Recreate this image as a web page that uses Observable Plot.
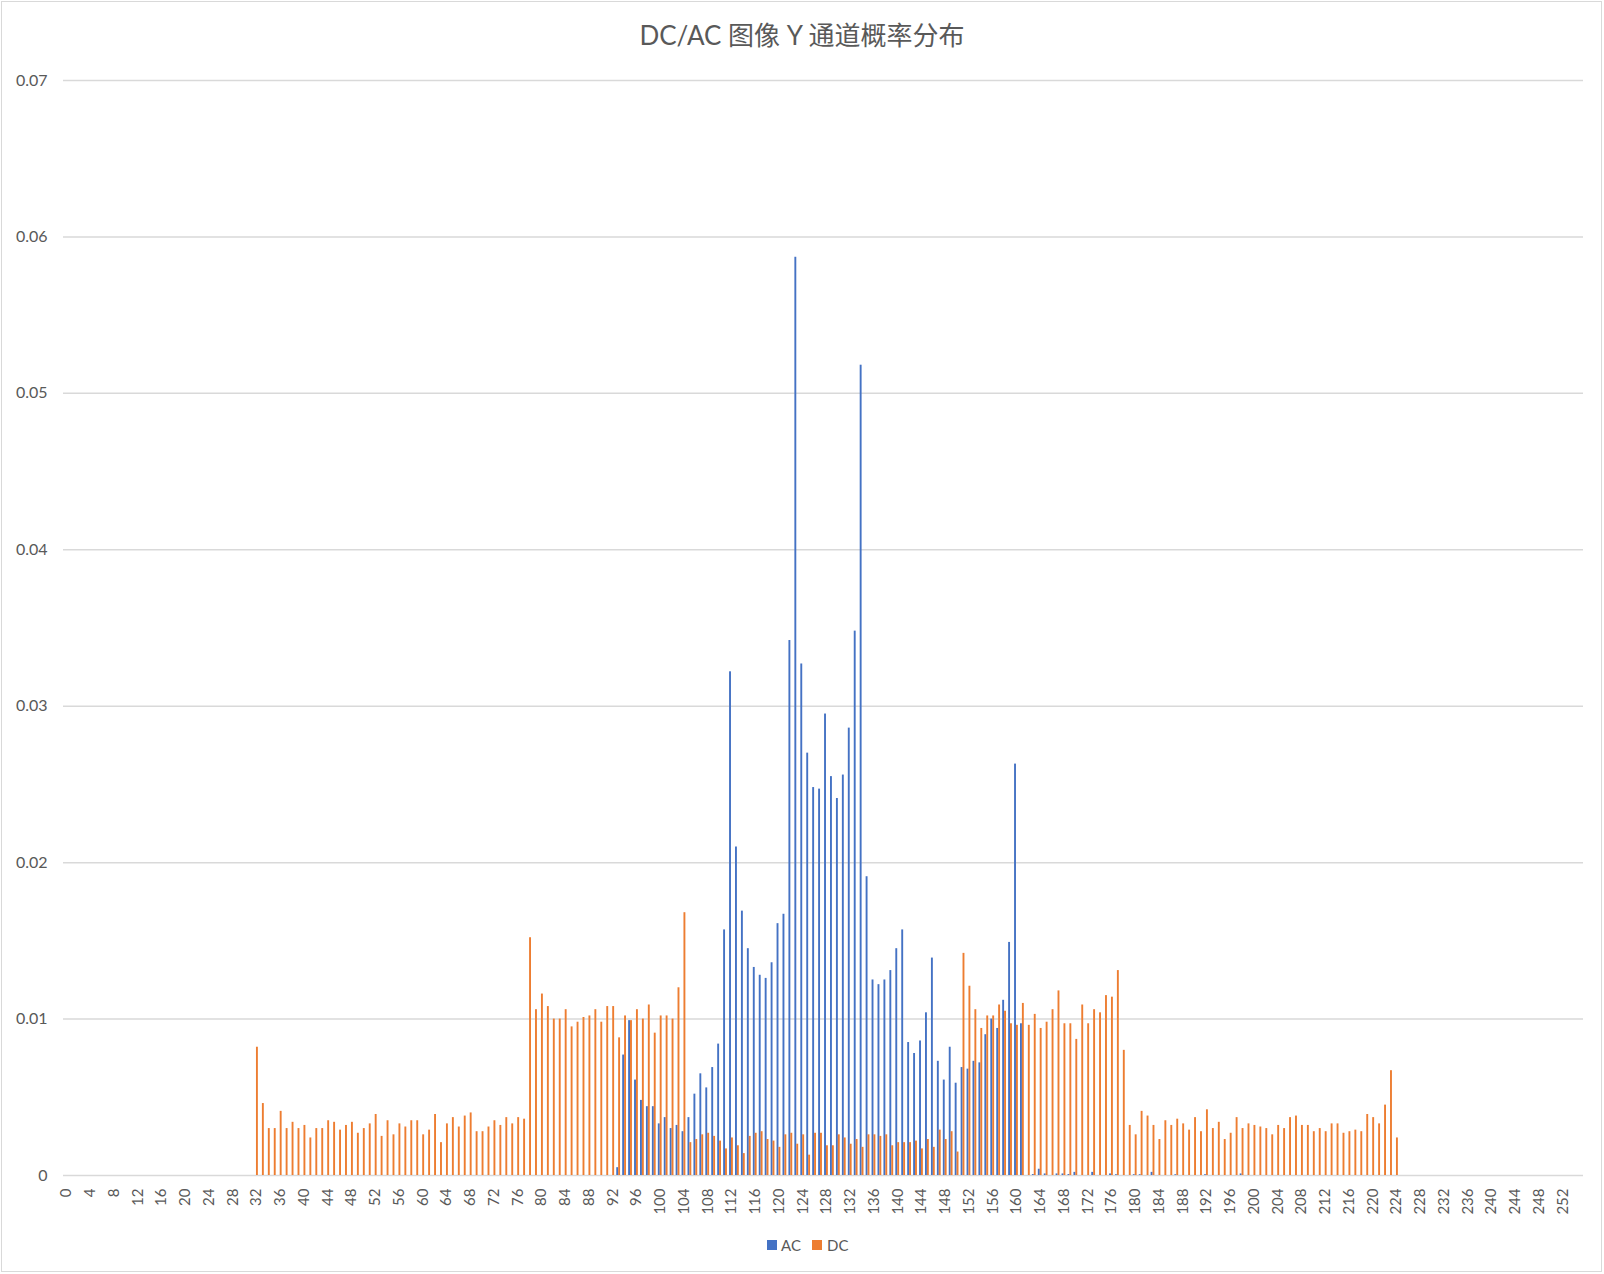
<!DOCTYPE html>
<html><head><meta charset="utf-8">
<script src="https://cdn.jsdelivr.net/npm/d3@7"></script>
<script src="https://cdn.jsdelivr.net/npm/@observablehq/plot@0.6"></script>
<style>
body{margin:0;background:#fff;}
#chart{position:relative;width:1604px;height:1274px;font-family:Lato,"Noto Sans CJK SC",sans-serif;color:#595959;background:#fff;overflow:hidden}
#frame{position:absolute;left:1px;top:1px;width:1601px;height:1271px;border:1px solid #d9d9d9;box-sizing:border-box;pointer-events:none}
#title{position:absolute;left:0;top:18px;width:100%;text-align:center;font-size:26px;line-height:34px;font-family:Lato,"Noto Sans CJK SC",sans-serif;}
#plot{position:absolute;left:0;top:0;}
.lg{position:absolute;top:1236px;font-size:15px;line-height:18px;}
.sw{position:absolute;top:1240px;width:10px;height:10px;}
</style></head>
<body>
<div id="chart">
  <div id="plot"></div>
  <div id="title"></div>
  <div class="sw" style="left:767px;background:#4472C4"></div>
  <div class="lg" id="lgAC" style="left:781px"></div>
  <div class="sw" style="left:812px;background:#ED7D31"></div>
  <div class="lg" id="lgDC" style="left:827px"></div>
  <div id="frame"></div>
</div>
<script>
const titleText = "DC/AC 图像 Y 通道概率分布";
const seriesNames = ["AC", "DC"];
const seriesColors = ["#4472C4", "#ED7D31"];
const categories = d3.range(256);
const xTickLabels = d3.range(0, 256, 4);
const yTicks = [0, 0.01, 0.02, 0.03, 0.04, 0.05, 0.06, 0.07];

const acValues = [
 0,0,0,0,0,0,0,0,0,0,0,0,0,0,0,0,
 0,0,0,0,0,0,0,0,0,0,0,0,0,0,0,0,
 0,0,0,0,0,0,0,0,0,0,0,0,0,0,0,0,
 0,0,0,0,0,0,0,0,0,0,0,0,0,0,0,0,
 0,0,0,0,0,0,0,0,0,0,0,0,0,0,0,0,
 0,0,0,0,0,0,0,0,0,0,0,0,0,.0005,.0077,.0099,
 .0061,.0048,.0044,.0044,.0033,.0037,.0030,.0032,.0028,.0037,.0052,.0065,.0056,.0069,.0084,.0157,
 .0322,.0210,.0169,.0145,.0133,.0128,.0126,.0136,.0161,.0167,.0342,.0587,.0327,.0270,.0248,.0247,
 .0295,.0255,.0241,.0256,.0286,.0348,.0518,.0191,.0125,.0122,.0125,.0131,.0145,.0157,.0085,.0078,
 .0086,.0104,.0139,.0073,.0061,.0082,.0059,.0069,.0068,.0073,.0072,.0090,.0100,.0094,.0112,.0149,
 .0263,.0097,0,.00006,.0004,.0001,0,.0001,.0001,.00006,.0002,0,0,.0002,0,0,
 .0001,.00005,0,0,.00005,.00005,0,.0002,0,0,0,.00005,0,0,0,0,
 .00005,0,0,0,0,0,.0001,0,0,0,0,0,0,0,0,0,
 0,0,0,0,0,0,0,0,0,0,0,0,0,0,0,0,
 0,0,0,0,0,0,0,0,0,0,0,0,0,0,0,0,
 0,0,0,0,0,0,0,0,0,0,0,0,0,0,0,0
];

const dcValues = [
 0,0,0,0,0,0,0,0,0,0,0,0,0,0,0,0,
 0,0,0,0,0,0,0,0,0,0,0,0,0,0,0,0,
 .0082,.0046,.0030,.0030,.0041,.0030,.0034,.0030,.0032,.0024,.0030,.0030,.0035,.0034,.0029,.0032,
 .0034,.0027,.0030,.0033,.0039,.0025,.0035,.0026,.0033,.0031,.0035,.0035,.0026,.0029,.0039,.0021,
 .0033,.0037,.0031,.0038,.0040,.0028,.0028,.0031,.0035,.0032,.0037,.0033,.0037,.0036,.0152,.0106,
 .0116,.0108,.0100,.0100,.0106,.0095,.0098,.0101,.0102,.0106,.0098,.0108,.0108,.0088,.0102,.0099,
 .0106,.0100,.0109,.0091,.0102,.0102,.0100,.0120,.0168,.0021,.0023,.0026,.0027,.0025,.0022,.0017,
 .0024,.0019,.0014,.0025,.0027,.0028,.0023,.0022,.0018,.0026,.0027,.0020,.0026,.0013,.0027,.0027,
 .0019,.0019,.0026,.0024,.0020,.0023,.0018,.0026,.0026,.0025,.0026,.0019,.0021,.0021,.0021,.0022,
 .0017,.0023,.0018,.0029,.0023,.0028,.0015,.0142,.0121,.0106,.0094,.0102,.0102,.0109,.0105,.0097,
 .0096,.0110,.0096,.0103,.0094,.0098,.0106,.0118,.0097,.0097,.0087,.0109,.0097,.0106,.0104,.0115,
 .0114,.0131,.0080,.0032,.0026,.0041,.0038,.0032,.0023,.0035,.0032,.0036,.0033,.0029,.0037,.0028,
 .0042,.0030,.0034,.0023,.0027,.0037,.0030,.0033,.0032,.0031,.0030,.0026,.0032,.0030,.0037,.0038,
 .0032,.0032,.0028,.0030,.0028,.0033,.0033,.0027,.0028,.0029,.0028,.0039,.0037,.0033,.0045,.0067,
 .0024,0,0,0,0,0,0,0,0,0,0,0,0,0,0,0,
 0,0,0,0,0,0,0,0,0,0,0,0,0,0,0,0
];

document.getElementById("title").textContent = titleText;
document.getElementById("lgAC").textContent = seriesNames[0];
document.getElementById("lgDC").textContent = seriesNames[1];

const W = 1604, H = 1274;
const mL = 63, mR = 21, mT = 80, mB = 99;
const pad = 0.36;
const step = (W - mL - mR) / categories.length;
const half = step * (1 - pad) / 2;

const acData = categories.map((c, i) => ({cat: c, v: acValues[i]}));
const dcData = categories.map((c, i) => ({cat: c, v: dcValues[i]}));

const chart = Plot.plot({
  width: W, height: H,
  marginLeft: mL, marginRight: mR, marginTop: mT, marginBottom: mB,
  style: {fontFamily: "Lato, 'Noto Sans CJK SC', sans-serif", color: "#595959", background: "transparent", overflow: "visible"},
  x: {type: "band", domain: categories, paddingInner: pad, paddingOuter: pad / 2, axis: null, label: null},
  y: {domain: [0, 0.07], axis: null, label: null},
  marks: [
    Plot.ruleY(yTicks, {stroke: "#d9d9d9", strokeWidth: 1.5}),
    Plot.barY(acData, {x: "cat", y: "v", fill: seriesColors[0], insetRight: half}),
    Plot.barY(dcData, {x: "cat", y: "v", fill: seriesColors[1], insetLeft: half}),
    Plot.axisY({ticks: yTicks, tickSize: 0, tickPadding: 16, fontSize: 16, label: null,
      tickFormat: d => d === 0 ? "0" : d.toFixed(2)}),
    Plot.axisX({ticks: xTickLabels, tickSize: 0, tickPadding: 13, tickRotate: -90, fontSize: 15, label: null})
  ]
});
document.getElementById("plot").appendChild(chart);
</script>
</body></html>
